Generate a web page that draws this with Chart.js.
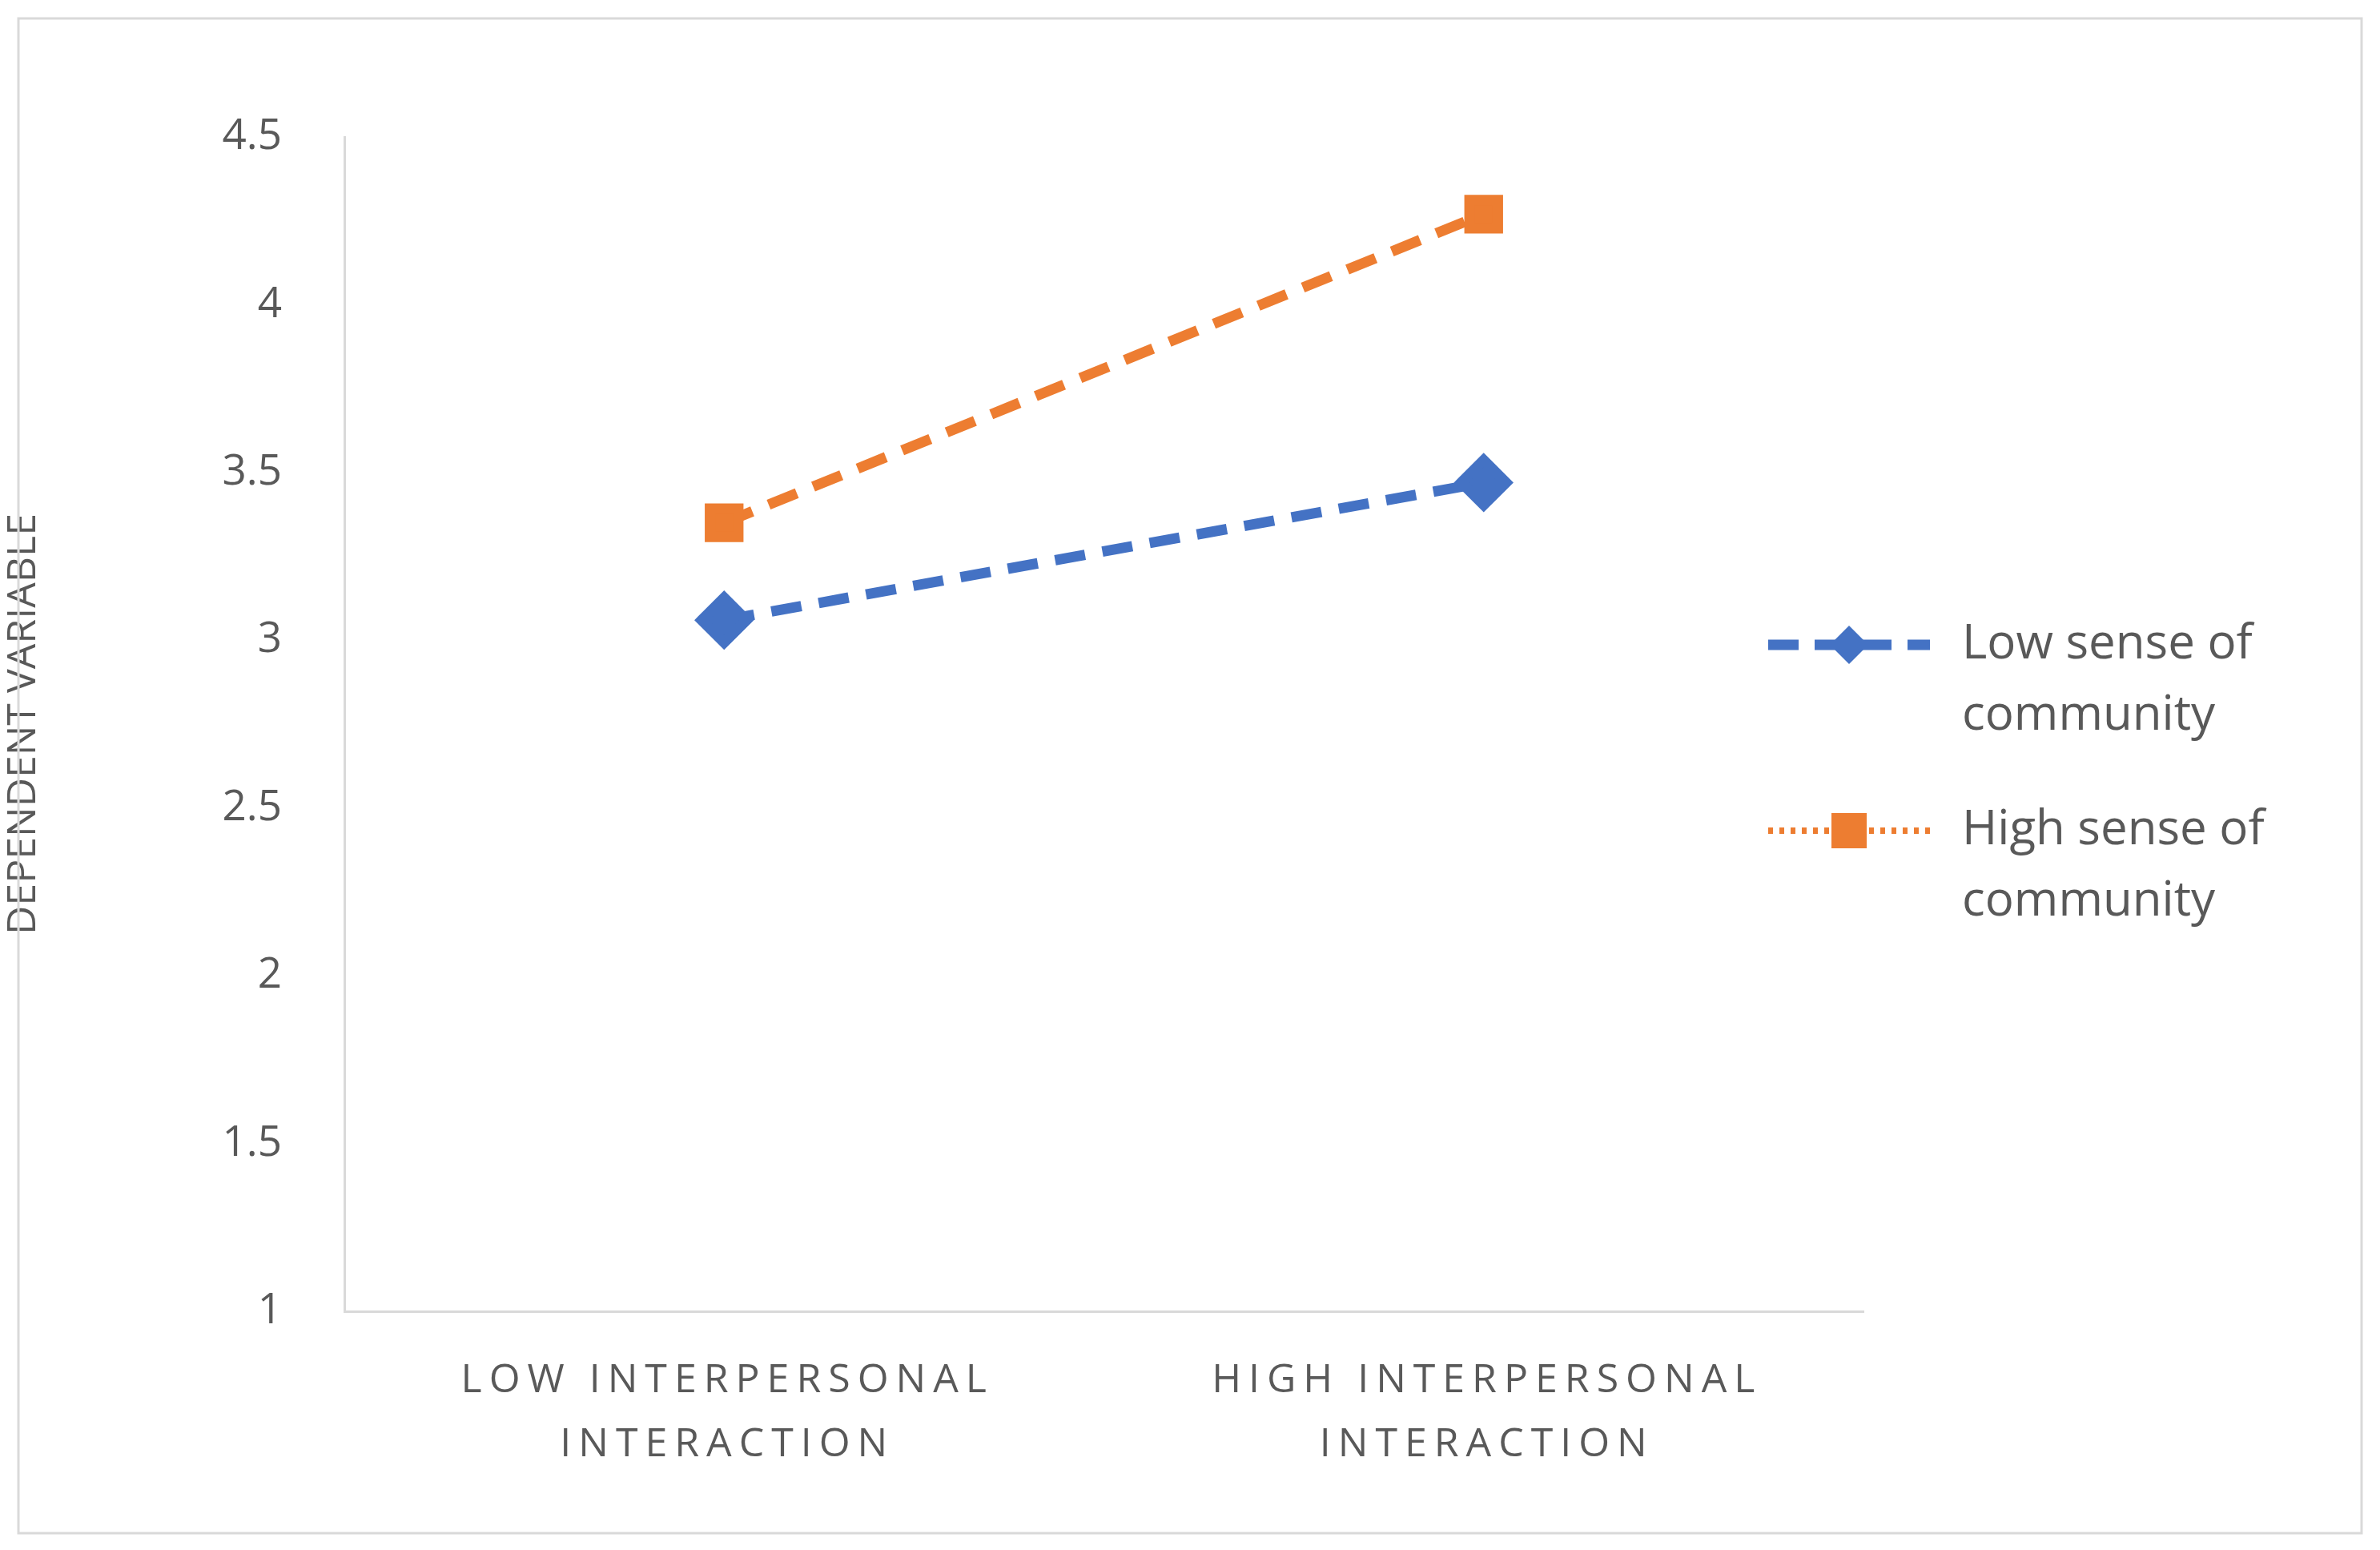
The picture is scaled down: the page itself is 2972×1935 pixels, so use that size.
<!DOCTYPE html>
<html><head><meta charset="utf-8">
<script src="https://cdn.jsdelivr.net/npm/chart.js@4/dist/chart.umd.min.js"></script>
<style>html,body{margin:0;padding:0;background:#fff}#wrap{width:2972px;height:1935px;position:relative}</style>
</head><body><div id="wrap"><canvas id="c" width="2972" height="1935"></canvas></div>
<script>
const categories = [["LOW INTERPERSONAL","INTERACTION"],["HIGH INTERPERSONAL","INTERACTION"]];
const lowSense = [3.06, 3.47];
const highSense = [3.35, 4.27];
const seriesNames = [["Low sense of","community"],["High sense of","community"]];
const yTitle = "DEPENDENT VARIABLE";
const FONT = "'Open Sans', 'Liberation Sans', sans-serif";
const TXT = "#595959";

const deco = {
  id:'deco',
  afterDraw(chart){
    const ctx = chart.ctx, xs = chart.scales.x;
    ctx.save();
    ctx.strokeStyle = '#D9D9D9'; ctx.lineWidth = 3;
    ctx.strokeRect(23,23,2926,1891);
    ctx.fillStyle = TXT; ctx.font = "50px " + FONT;
    ctx.textAlign = 'center'; ctx.textBaseline = 'middle';
    ctx.letterSpacing = '9px';
    categories.forEach((lines,i)=>{
      const x = xs.getPixelForValue(i);
      lines.forEach((l,j)=>ctx.fillText(l, x+4, 1724 + j*80));
    });
    ctx.letterSpacing = '0px';
    const ds = chart.data.datasets;
    const rows = [805, 1037];
    ctx.font = "60px " + FONT; ctx.textAlign = 'left';
    ds.forEach((d,i)=>{
      const y = rows[i];
      ctx.strokeStyle = d.borderColor; ctx.lineWidth = i===0?13:8;
      ctx.setLineDash(i===0?[38,20]:[6,8]);
      ctx.beginPath(); ctx.moveTo(2208,y); ctx.lineTo(2410,y); ctx.stroke();
      ctx.setLineDash([]);
      ctx.fillStyle = d.borderColor;
      ctx.beginPath();
      if(i===0){ctx.moveTo(2309,y-24);ctx.lineTo(2333,y);ctx.lineTo(2309,y+24);ctx.lineTo(2285,y);}
      else{ctx.rect(2287,y-22,44,44);}
      ctx.fill();
      ctx.fillStyle = TXT;
      seriesNames[i].forEach((t,j)=>ctx.fillText(t,2450,y+j*89));
    });
    ctx.restore();
  }
};

new Chart(document.getElementById('c'),{
  type:'line',
  data:{labels:categories.map(c=>c.join(' ')),datasets:[
    {data:lowSense,borderColor:'#4472C4',backgroundColor:'#4472C4',borderWidth:13,borderDash:[38,22],
     pointStyle:'rectRot',pointRadius:28,pointHoverRadius:28},
    {data:highSense,borderColor:'#ED7D31',backgroundColor:'#ED7D31',borderWidth:13,borderDash:[38,22],
     pointStyle:'rect',pointRadius:25,pointHoverRadius:25}
  ]},
  options:{
    responsive:false,animation:false,devicePixelRatio:1,
    layout:{padding:{top:171,right:645,left:0,bottom:0}},
    plugins:{legend:{display:false},tooltip:{enabled:false}},
    scales:{
      x:{offset:true,grid:{display:false},border:{color:'#D9D9D9',width:3},
         ticks:{display:false},afterFit(s){s.height=298;}},
      y:{min:1,max:4.5,grid:{display:false},border:{color:'#D9D9D9',width:3},
         ticks:{stepSize:0.5,color:TXT,font:{size:53,family:FONT},padding:70,
                callback:v=>String(v)},
         title:{display:true,text:yTitle,color:TXT,font:{size:50,family:FONT},padding:{top:0,bottom:0}},
         afterFit(s){s.width=430;}}
    }
  },
  plugins:[deco]
});
</script></body></html>
